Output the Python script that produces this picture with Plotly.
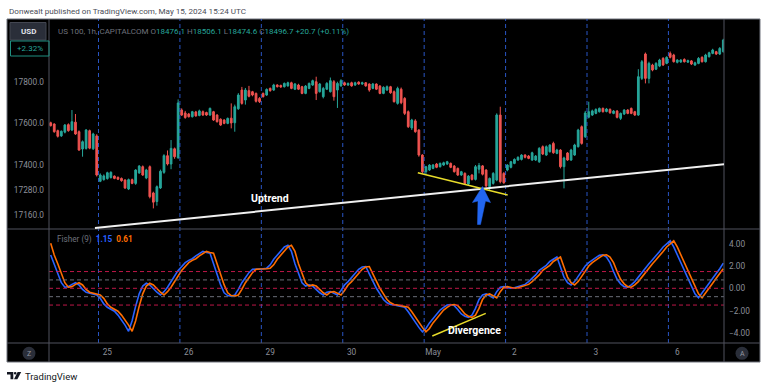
import plotly.graph_objects as go

# ---------------- data (hourly US 100 bars, Apr 24 - May 6 2024) ----------------
bar_open = [17603,17597,17565,17540,17558,17594,17568,17606,17560,17477,17480,17565,17478,17540,
 17322,17330,17335,17340,17347,17341,17336,17328,17285,17330,17312,17362,17392,17338,17392,17266,17225,17290,17365,17445,17405,17478,17435,
 17664,17650,17645,17632,17655,17638,17656,17652,17640,17656,17640,17620,17616,17600,17625,17603,17670,17760,17712,17757,17752,17744,17720,
 17744,17736,17768,17760,17784,17782,17776,17780,17795,17764,17784,17776,17744,17768,17784,17800,17752,17728,17764,17752,17800,17760,17780,
 17795,17784,17795,17784,17798,17789,17795,17789,17768,17789,17779,17744,17760,17776,17752,17696,17764,17720,17656,17578,17612,17568,17448,
 17368,17376,17384,17405,17392,17400,17405,17408,17395,17384,17352,17360,17309,17352,17331,17380,17396,17376,17296,17312,17328,17640,17360,
 17376,17389,17408,17424,17427,17448,17443,17424,17424,17416,17488,17448,17464,17504,17456,17472,17392,17458,17424,17448,17488,17584,17536,
 17630,17640,17648,17656,17672,17657,17667,17648,17659,17624,17645,17664,17672,17656,17640,17816,17933,17816,17880,17860,17875,17912,17888,
 17936,17928,17893,17895,17907,17894,17900,17880,17888,17917,17896,17920,17936,17944,17933,17944]
bar_high = [17608,17600,17570,17566,17597,17600,17664,17645,17566,17518,17573,17570,17555,17548,
 17360,17355,17368,17370,17350,17345,17340,17332,17335,17335,17380,17400,17398,17382,17398,17272,17302,17378,17452,17470,17520,17484,17715,
 17672,17660,17650,17660,17660,17666,17662,17656,17676,17660,17644,17624,17620,17628,17696,17690,17745,17775,17770,17780,17756,17748,17726,
 17748,17768,17772,17790,17788,17786,17796,17800,17800,17794,17790,17780,17784,17796,17810,17824,17794,17775,17798,17820,17808,17800,17812,
 17800,17796,17800,17800,17802,17800,17798,17792,17794,17792,17784,17778,17782,17780,17758,17776,17772,17726,17662,17622,17620,17572,17452,
 17396,17404,17405,17410,17412,17416,17420,17412,17400,17388,17372,17365,17352,17356,17400,17410,17400,17380,17340,17366,17648,17680,17366,
 17404,17420,17432,17442,17452,17452,17448,17464,17448,17486,17494,17494,17500,17512,17478,17476,17440,17462,17478,17502,17574,17590,17660,
 17704,17666,17672,17676,17676,17674,17672,17664,17664,17652,17668,17668,17676,17660,17860,17904,17940,17896,17886,17894,17910,17918,17922,
 17945,17934,17908,17908,17912,17906,17904,17896,17918,17922,17934,17944,17958,17948,17966,18006]
bar_low = [17585,17555,17532,17535,17552,17560,17563,17545,17468,17440,17474,17476,17472,17345,
 17318,17325,17330,17335,17332,17328,17320,17285,17280,17308,17305,17358,17348,17332,17240,17192,17205,17285,17358,17398,17380,17430,17430,
 17636,17622,17628,17628,17632,17634,17636,17636,17636,17612,17604,17588,17596,17596,17576,17560,17665,17690,17690,17725,17730,17700,17698,
 17724,17732,17752,17756,17772,17770,17772,17776,17764,17760,17760,17740,17740,17764,17780,17712,17748,17720,17760,17748,17709,17674,17776,
 17780,17780,17776,17780,17785,17785,17776,17752,17764,17760,17740,17740,17756,17742,17700,17690,17692,17640,17578,17568,17555,17440,17360,
 17356,17372,17380,17385,17388,17396,17400,17385,17364,17348,17348,17306,17304,17326,17326,17360,17350,17292,17277,17306,17322,17312,17310,
 17370,17384,17404,17420,17422,17432,17428,17420,17420,17410,17448,17444,17460,17454,17452,17384,17288,17420,17420,17444,17484,17498,17530,
 17624,17636,17644,17652,17652,17653,17646,17644,17624,17616,17640,17644,17644,17636,17636,17808,17792,17792,17850,17856,17870,17876,17884,
 17912,17892,17888,17890,17892,17890,17880,17876,17884,17892,17892,17916,17932,17928,17928,17940]
bar_close = [17589,17560,17538,17562,17592,17565,17608,17549,17472,17512,17568,17481,17549,17352,
 17352,17348,17363,17365,17336,17332,17325,17290,17330,17312,17376,17395,17352,17376,17248,17222,17296,17370,17445,17405,17480,17440,17698,
 17640,17628,17632,17656,17636,17660,17640,17640,17672,17616,17608,17592,17600,17624,17602,17680,17736,17696,17760,17730,17736,17706,17704,
 17728,17763,17757,17784,17776,17775,17792,17795,17768,17789,17764,17744,17779,17792,17805,17744,17789,17768,17792,17805,17728,17792,17805,
 17784,17792,17780,17795,17789,17795,17780,17760,17789,17764,17744,17773,17776,17747,17704,17768,17699,17648,17584,17616,17560,17448,17368,
 17392,17400,17400,17389,17408,17411,17416,17389,17368,17352,17368,17312,17347,17331,17392,17398,17356,17300,17336,17360,17640,17320,17315,
 17400,17416,17427,17437,17448,17437,17432,17459,17443,17480,17453,17488,17496,17459,17472,17392,17434,17424,17472,17496,17568,17504,17650,
 17656,17660,17667,17672,17656,17669,17651,17659,17629,17648,17664,17648,17648,17640,17824,17896,17816,17888,17856,17888,17904,17880,17917,
 17917,17896,17904,17904,17896,17901,17885,17891,17912,17896,17928,17939,17952,17933,17960,18000]

fisher = [2.98,2.2,1.3,0.5,0.1,0.15,0.35,0.5,0.3,-0.1,
 -0.35,-0.45,-0.5,-0.6,-0.9,-1.4,-1.7,-1.9,-2.05,-2.4,
 -2.8,-3.3,-3.85,-2.9,-1.6,-0.5,0.2,0.45,0.3,-0.05,
 -0.35,-0.6,-0.3,0.1,0.55,1.1,1.6,2.0,2.3,2.5,
 2.65,2.9,3.1,3.3,3.2,3.15,2.2,1.2,0.3,-0.4,
 -0.65,-0.7,-0.6,-0.1,0.5,0.95,1.4,1.7,1.7,1.75,
 1.75,1.8,2.1,2.6,3.0,3.4,3.7,3.85,3.3,2.2,
 1.3,0.5,0.2,0.3,0.2,-0.1,-0.4,-0.6,-0.35,-0.3,
 -0.45,-0.6,-0.2,0.3,0.6,1.0,1.4,1.7,1.9,1.95,
 1.3,0.6,0.0,-0.5,-1.0,-1.3,-1.45,-1.5,-1.55,-1.6,
 -1.7,-2.1,-2.6,-3.0,-3.5,-3.9,-3.6,-3.1,-2.7,-2.3,
 -1.95,-1.7,-1.5,-1.45,-1.55,-1.9,-2.3,-2.5,-2.6,-2.4,
 -1.8,-1.0,-0.6,-0.5,-0.7,-0.85,-0.3,0.1,0.15,0.05,
 0.0,0.05,0.15,0.25,0.35,0.6,0.9,1.2,1.6,1.85,
 2.05,2.4,2.6,2.8,1.9,1.0,0.5,0.3,0.6,1.1,
 1.6,2.0,2.3,2.55,2.75,2.95,3.0,2.8,2.3,1.5,
 0.8,0.4,0.15,0.1,0.3,0.6,1.0,1.5,1.9,2.2,
 2.55,2.9,3.3,3.7,4.0,4.25,3.7,3.0,2.3,1.6,
 0.9,0.2,-0.5,-0.85,-0.45,0.0,0.45,0.9,1.3,1.75,2.25]
trigger = [4.03,2.98,2.2,1.3,0.5,0.1,0.15,0.35,0.5,0.3,
 -0.1,-0.35,-0.45,-0.5,-0.6,-0.9,-1.4,-1.7,-1.9,-2.05,
 -2.4,-2.8,-3.3,-3.85,-2.9,-1.6,-0.5,0.2,0.45,0.3,
 -0.05,-0.35,-0.6,-0.3,0.1,0.55,1.1,1.6,2.0,2.3,
 2.5,2.65,2.9,3.1,3.3,3.2,3.15,2.2,1.2,0.3,
 -0.4,-0.65,-0.7,-0.6,-0.1,0.5,0.95,1.4,1.7,1.7,
 1.75,1.75,1.8,2.1,2.6,3.0,3.4,3.7,3.85,3.3,
 2.2,1.3,0.5,0.2,0.3,0.2,-0.1,-0.4,-0.6,-0.35,
 -0.3,-0.45,-0.6,-0.2,0.3,0.6,1.0,1.4,1.7,1.9,
 1.95,1.3,0.6,0.0,-0.5,-1.0,-1.3,-1.45,-1.5,-1.55,
 -1.6,-1.7,-2.1,-2.6,-3.0,-3.5,-3.9,-3.6,-3.1,-2.7,
 -2.3,-1.95,-1.7,-1.5,-1.45,-1.55,-1.9,-2.3,-2.5,-2.6,
 -2.4,-1.8,-1.0,-0.6,-0.5,-0.7,-0.85,-0.3,0.1,0.15,
 0.05,0.0,0.05,0.15,0.25,0.35,0.6,0.9,1.2,1.6,
 1.85,2.05,2.4,2.6,2.8,1.9,1.0,0.5,0.3,0.6,
 1.1,1.6,2.0,2.3,2.55,2.75,2.95,3.0,2.8,2.3,
 1.5,0.8,0.4,0.15,0.1,0.3,0.6,1.0,1.5,1.9,
 2.2,2.55,2.9,3.3,3.7,4.0,4.25,3.7,3.0,2.3,
 1.6,0.9,0.2,-0.5,-0.85,-0.45,0.0,0.45,0.9,1.3,1.75]

day_labels = ["25", "26", "29", "30", "May", "2", "3", "6"]
day_label_bars = [16, 39, 62, 85, 108, 131, 154, 177]
session_break_bars = [13.5, 36.5, 59.5, 82.5, 105.5, 128.5, 151.5, 174.5]
price_ticks = [17160, 17280, 17400, 17600, 17800]
fisher_ticks = [4, 2, 0, -2, -4]
fisher_tick_text = ["4.00", "2.00", "0.00", "\u22122.00", "\u22124.00"]
fisher_levels_red = [1.5, 0, -1.5]
fisher_levels_gray = [0.75, -0.75]
# author drawings (bar index, value)
uptrend_bars = [12.5, 190.2]
uptrend_prices = [17098, 17404]
price_div_bars = [103.7, 129.1]
price_div_prices = [17363, 17256]
fisher_div_bars = [107.8, 122.9]
fisher_div_values = [-4.27, -2.24]

bars = list(range(len(bar_close)))

# ---------------- styling helpers ----------------
W, H = 768, 388
ML, MR, MT, MB = 49, 44, 19, 45
PW, PH = W - ML - MR, H - MT - MB
def px(x):
    return (x - ML) / PW
def py(y):
    return (H - MB - y) / PH
split = py(229)
FONT = "Roboto, Liberation Sans, sans-serif"
UP, DOWN = "#26a69a", "#ef5350"
GRID = "#50535e"
TXT = "#8c8f99"

fig = go.Figure()
fig.add_trace(go.Candlestick(
    x=bars, open=bar_open, high=bar_high, low=bar_low, close=bar_close,
    increasing=dict(line=dict(color=UP, width=1), fillcolor=UP),
    decreasing=dict(line=dict(color=DOWN, width=1), fillcolor=DOWN),
    whiskerwidth=0, xaxis="x", yaxis="y", showlegend=False, hoverinfo="skip"))
fig.add_trace(go.Scatter(x=bars, y=fisher, mode="lines", xaxis="x2", yaxis="y2",
                         line=dict(color="#2962FF", width=1.6), showlegend=False, hoverinfo="skip"))
fig.add_trace(go.Scatter(x=bars, y=trigger, mode="lines", xaxis="x2", yaxis="y2",
                         line=dict(color="#FF6D00", width=1.6), showlegend=False, hoverinfo="skip"))

shapes = []
# chart box background
shapes.append(dict(type="rect", xref="paper", yref="paper", x0=px(7), x1=px(760), y0=py(362), y1=py(19),
                   fillcolor="#000000", line=dict(color="#6f727c", width=1), layer="below"))
# session break lines
for b in session_break_bars:
    shapes.append(dict(type="line", xref="x", yref="paper", x0=b, x1=b, y0=0, y1=1,
                       line=dict(color="rgba(48,100,230,0.85)", width=1, dash="4px,3px")))
# fisher levels
for v in fisher_levels_red:
    shapes.append(dict(type="line", xref="paper", yref="y2", x0=0, x1=1, y0=v, y1=v,
                       line=dict(color="rgba(210,25,80,0.9)", width=1, dash="4px,3px")))
for v in fisher_levels_gray:
    shapes.append(dict(type="line", xref="paper", yref="y2", x0=0, x1=1, y0=v, y1=v,
                       line=dict(color="#6b6e78", width=1, dash="4px,3px")))
# separators
for yy in (229, 343):
    shapes.append(dict(type="line", xref="paper", yref="paper", x0=px(7), x1=px(760), y0=py(yy), y1=py(yy),
                       line=dict(color=GRID, width=1)))
for xx in (49, 724):
    shapes.append(dict(type="line", xref="paper", yref="paper", x0=px(xx), x1=px(xx), y0=py(362), y1=py(19),
                       line=dict(color=GRID, width=1)))
# drawings
shapes.append(dict(type="line", xref="x", yref="y", x0=uptrend_bars[0], x1=uptrend_bars[1],
                   y0=uptrend_prices[0], y1=uptrend_prices[1], line=dict(color="#f0f0f0", width=2)))
shapes.append(dict(type="line", xref="x", yref="y", x0=price_div_bars[0], x1=price_div_bars[1],
                   y0=price_div_prices[0], y1=price_div_prices[1], line=dict(color="#e8dc2a", width=1.5)))
shapes.append(dict(type="line", xref="x2", yref="y2", x0=fisher_div_bars[0], x1=fisher_div_bars[1],
                   y0=fisher_div_values[0], y1=fisher_div_values[1], line=dict(color="#e8dc2a", width=1.5)))
# blue arrow (pixel outline converted to paper coords)
arrow_pts = [(482.5, 186.5), (490.5, 202.5), (485.5, 201), (480.5, 224.5), (477.5, 224.5), (478, 201), (472.5, 202.5)]
path = "M " + " L ".join(f"{px(a):.5f},{py(b):.5f}" for a, b in arrow_pts) + " Z"
shapes.append(dict(type="path", xref="paper", yref="paper", path=path,
                   fillcolor="#2266f0", line=dict(color="#2266f0", width=0.5)))
# USD button and change box
shapes.append(dict(type="rect", xref="paper", yref="paper", x0=px(10), x1=px(46), y0=py(40), y1=py(22.5),
                   fillcolor="#2a2e39", line=dict(color="#434651", width=1)))
shapes.append(dict(type="rect", xref="paper", yref="paper", x0=px(10.5), x1=px(49), y0=py(56), y1=py(41),
                   fillcolor="rgba(0,0,0,0)", line=dict(color="#1f8f80", width=1)))
# Z / A buttons
for cx in (29, 742):
    shapes.append(dict(type="circle", xref="paper", yref="paper", x0=px(cx - 6.5), x1=px(cx + 6.5),
                       y0=py(353.3 + 6.5), y1=py(353.3 - 6.5), fillcolor="#2a2e39", line=dict(width=0)))
# TradingView logo
logo1 = [(7, 372), (13.3, 372), (13.3, 379.2), (10.5, 379.2), (10.5, 374.6), (7, 374.6)]
logo2 = [(17.6, 372), (21.2, 372), (17.4, 379.2), (14.0, 379.2)]
for pts in (logo1, logo2):
    shapes.append(dict(type="path", xref="paper", yref="paper",
                       path="M " + " L ".join(f"{px(a):.5f},{py(b):.5f}" for a, b in pts) + " Z",
                       fillcolor="#131722", line=dict(width=0)))
shapes.append(dict(type="circle", xref="paper", yref="paper", x0=px(13.9), x1=px(16.5), y0=py(374.6), y1=py(372),
                   fillcolor="#131722", line=dict(width=0)))

ann = []
def text(x, y, s, size=8.3, color=TXT, xanchor="left", bold=False):
    ann.append(dict(xref="paper", yref="paper", x=px(x), y=py(y), text=(f"<b>{s}</b>" if bold else s),
                    showarrow=False, xanchor=xanchor, yanchor="middle",
                    font=dict(family=FONT, size=size, color=color)))

text(7, 11, "Donwealt published on TradingView.com, May 15, 2024 15:24 UTC", size=8.1, color="#4a4d57")
G = "#26a69a"
info = ("<span style='color:#6f727c'>US 100, 1h, CAPITALCOM</span>"
        " <span style='color:#6f727c'>O</span><span style='color:%s'>18476.1</span>"
        " <span style='color:#6f727c'>H</span><span style='color:%s'>18506.1</span>"
        " <span style='color:#6f727c'>L</span><span style='color:%s'>18474.6</span>"
        " <span style='color:#6f727c'>C</span><span style='color:%s'>18496.7</span>"
        " <span style='color:%s'>+20.7 (+0.11%%)</span>") % (G, G, G, G, G)
text(56, 31.5, info, size=8.0)
text(28, 31.3, "USD", size=8, color="#e0e3eb", xanchor="center", bold=True)
text(30, 48.5, "+2.32%", size=8, color=G, xanchor="center")
legend = ("<span style='color:#6f727c'>Fisher (9)</span>  "
          "<span style='color:#2962FF'><b>1.15</b></span>  "
          "<span style='color:#FF6D00'><b>0.61</b></span>")
text(55, 240, legend, size=8.2)
text(270, 198.5, "Uptrend", size=10.5, color="#ffffff", xanchor="center", bold=True)
text(475, 330.5, "Divergence", size=10.5, color="#ffffff", xanchor="center", bold=True)
text(29, 353.5, "Z", size=7, color="#9598a1", xanchor="center")
text(742, 353.5, "A", size=7, color="#9598a1", xanchor="center")
text(23, 376, "TradingView", size=9.5, color="#131722")

axis_common = dict(showgrid=False, zeroline=False, ticks="", showline=False,
                   tickfont=dict(family=FONT, size=8.3, color=TXT))
fig.update_layout(
    width=W, height=H, margin=dict(l=ML, r=MR, t=MT, b=MB),
    paper_bgcolor="#ffffff", plot_bgcolor="#000000", hovermode=False, showlegend=False,
    xaxis=dict(domain=[0, 1], anchor="y", range=[-0.48, 190.2], showticklabels=False,
               rangeslider=dict(visible=False), **{k: v for k, v in axis_common.items() if k != "tickfont"}),
    yaxis=dict(domain=[split, 1], anchor="x", range=[17093, 18101], side="left",
               tickvals=price_ticks, ticktext=[f"{v:.1f}" for v in price_ticks], ticklabelstandoff=4,
               **axis_common),
    xaxis2=dict(domain=[0, 1], anchor="y2", matches="x", tickvals=day_label_bars, ticktext=day_labels,
                ticklabelstandoff=3, **axis_common),
    yaxis2=dict(domain=[0, split], anchor="x2", range=[-4.897, 5.309], side="right",
                tickvals=fisher_ticks, ticktext=fisher_tick_text, ticklabelstandoff=4, **axis_common),
    shapes=shapes, annotations=ann,
)
fig.write_html("out.html", config={"displayModeBar": False},
               post_script="document.body.style.margin='0px';document.body.style.overflow='hidden';")
